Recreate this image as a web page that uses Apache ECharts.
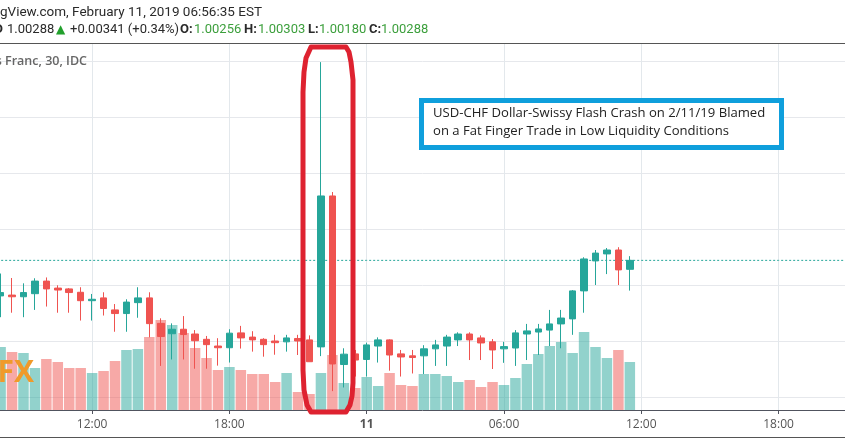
<!DOCTYPE html>
<html>
<head>
<meta charset="utf-8">
<style>html,body{margin:0;padding:0;background:#fff}#chart{width:845px;height:444px}</style>
<script src="https://cdn.jsdelivr.net/npm/echarts@6/dist/echarts.min.js"></script>
</head>
<body>
<div id="chart"></div>
<script>
// 30 minute bars, first slot is off screen to the left
const categories = ['07:30','08:00','08:30','09:00','09:30','10:00','10:30','11:00','11:30','12:00','12:30','13:00','13:30','14:00','14:30','15:00','15:30','16:00','16:30','17:00','17:30','18:00','18:30','19:00','19:30','20:00','20:30','21:00','21:30','22:00','22:30','23:00','23:30','11','00:30','01:00','01:30','02:00','02:30','03:00','03:30','04:00','04:30','05:00','05:30','06:00','06:30','07:00','07:30','08:00','08:30','09:00','09:30','10:00','10:30','11:00','11:30','12:00','12:30','13:00','13:30','14:00','14:30','15:00','15:30','16:00','16:30','17:00','17:30','18:00','18:30','19:00','19:30','20:00','20:30','21:00'];

const opens = [1.00161,1.00164,1.00158,1.00169,1.00214,1.00189,1.00186,1.00174,1.00144,1.00154,1.00111,1.00098,1.00137,1.00154,1.00063,1.00026,1.00042,1.00025,1.00006,0.99982,0.99976,1.00029,1.00014,1.00006,1.00000,0.99997,1.00009,1.00004,0.99979,1.00518,0.99916,0.99954,0.99934,0.99982,1.00004,0.99954,0.99947,0.99947,0.99972,0.99982,1.00004,1.00025,1.00011,0.99997,0.99972,0.99975,1.00025,1.00032,1.00039,1.00061,1.00079,1.00179,1.00286,1.00311,1.00325,1.00256];
const closes = [1.00173,1.00158,1.00173,1.00214,1.00186,1.00182,1.00173,1.00144,1.00149,1.00116,1.00098,1.00139,1.00154,1.00062,1.00016,1.00042,1.00023,1.00001,0.99987,0.99976,1.00028,1.00011,1.00004,0.99987,0.99994,1.00011,1.00000,0.99926,1.00518,0.99918,0.99953,0.99932,0.99986,1.00004,0.99950,0.99943,0.99941,0.99972,0.99986,1.00014,1.00025,1.00004,0.99993,0.99968,0.99980,1.00029,1.00036,1.00043,1.00061,1.00082,1.00179,1.00293,1.00314,1.00325,1.00254,1.00288];
const lows = [1.00085,1.00101,1.00085,1.00111,1.00123,1.00101,1.00101,1.00073,1.00073,1.00091,1.00033,1.00033,1.00083,1.00013,0.99911,0.99934,0.99934,0.99901,0.99901,0.99912,0.99923,0.99973,0.99962,0.99944,0.99951,0.99962,0.99950,0.99926,0.99946,0.99821,0.99834,0.99873,0.99873,0.99923,0.99894,0.99873,0.99884,0.99882,0.99911,0.99911,0.99982,0.99932,0.99932,0.99900,0.99922,0.99911,0.99932,0.99950,0.99982,0.99974,1.00022,1.00101,1.00200,1.00239,1.00200,1.00180];
const highs = [1.00241,1.00225,1.00206,1.00224,1.00227,1.00199,1.00189,1.00192,1.00168,1.00174,1.00132,1.00149,1.00192,1.00174,1.00081,1.00063,1.00089,1.00039,1.00018,1.00010,1.00042,1.00054,1.00035,1.00010,1.00022,1.00022,1.00022,1.00020,1.00996,1.00532,0.99974,0.99968,0.99994,1.00013,1.00006,0.99968,0.99968,0.99985,1.00004,1.00022,1.00031,1.00031,1.00020,1.00007,0.99997,1.00039,1.00061,1.00061,1.00111,1.00111,1.00182,1.00299,1.00325,1.00332,1.00335,1.00303];
const volumes = [63,58,57,42,51,48,42,42,37,39,49,60,61,73,90,85,77,62,52,40,43,40,36,36,28,37,18,16,37,55,27,22,33,24,37,25,24,36,36,34,28,30,23,28,25,32,46,56,64,68,57,78,63,52,60,48];
const lastPrice = 1.00288;
const priceTicks = { min: 0.998, max: 1.01, step: 0.002 };

const UP = '#26a69a', DOWN = '#ef5350';
const FONT = '"Open Sans", "Noto Sans", sans-serif';
const HEAD = 'Roboto, "Open Sans", sans-serif';
const isTick = i => i % 12 === 9;

function txt(x, y, text, fill, extra) {
    return { type: 'text', x, y, z: 20, style: Object.assign({
        text, fill, font: '13px ' + HEAD, textVerticalAlign: 'middle'
    }, extra || {}) };
}

const myChart = echarts.init(document.getElementById('chart'), null, { renderer: 'canvas' });
myChart.setOption({
    animation: false,
    backgroundColor: '#fff',
    grid: [
        { left: -10.84, right: -2.2, top: 61, bottom: 47, outerBoundsMode: 'none' },
        { left: -10.84, right: -2.2, top: 44, bottom: 34, outerBoundsMode: 'none' }
    ],
    xAxis: [
        { type: 'category', gridIndex: 0, data: categories, boundaryGap: false, show: false },
        {
            type: 'category', gridIndex: 1, data: categories, boundaryGap: false,
            axisLine: { lineStyle: { color: '#50535e', width: 1 } },
            axisTick: { interval: isTick, length: 4, lineStyle: { color: '#50535e' } },
            axisLabel: {
                interval: isTick, color: '#555', fontSize: 12, fontFamily: FONT, margin: 9,
                formatter: v => v === '11' ? '{b|11}' : v,
                rich: { b: { fontWeight: 'bold', color: '#555', fontSize: 12, fontFamily: FONT } }
            },
            splitLine: { show: true, interval: isTick, lineStyle: { color: '#e3e8ec', width: 1 } }
        }
    ],
    yAxis: [
        {
            type: 'value', gridIndex: 0, scale: true,
            min: priceTicks.min, max: priceTicks.max, interval: priceTicks.step,
            axisLine: { show: false }, axisTick: { show: false }, axisLabel: { show: false },
            splitLine: { lineStyle: { color: '#e6e8ec', width: 1 } }
        },
        {
            type: 'value', gridIndex: 1, min: 0, max: 366,
            axisLine: { show: false }, axisTick: { show: false }, axisLabel: { show: false },
            splitLine: { show: false }
        }
    ],
    series: [
        {
            type: 'bar', xAxisIndex: 1, yAxisIndex: 1, z: 1, barWidth: 10.5, silent: true,
            data: ['-'].concat(volumes.map((v, i) => ({
                value: v,
                itemStyle: { color: closes[i] >= opens[i] ? 'rgba(38,166,154,0.5)' : 'rgba(239,83,80,0.5)' }
            })))
        },
        {
            type: 'line', xAxisIndex: 0, yAxisIndex: 0, z: 2, silent: true, showSymbol: false,
            lineStyle: { color: UP, type: [2, 2], width: 1 },
            data: categories.map(() => lastPrice)
        },
        {
            type: 'candlestick', xAxisIndex: 0, yAxisIndex: 0, z: 3, barWidth: 7, silent: true,
            itemStyle: { color: UP, borderColor: UP, color0: DOWN, borderColor0: DOWN, borderWidth: 1 },
            data: [['-', '-', '-', '-']].concat(opens.map((o, i) => [o, closes[i], lows[i], highs[i]]))
        }
    ],
    graphic: [
        { type: 'rect', z: 15, shape: { x: 0, y: 0, width: 845, height: 43 }, style: { fill: '#fff' } },
        { type: 'rect', z: 16, shape: { x: 0, y: 43, width: 845, height: 1 }, style: { fill: '#555' } },
        { type: 'rect', z: 16, shape: { x: 0, y: 437, width: 845, height: 1 }, style: { fill: '#555' } },
        txt(0, 13, 'gView.com, February 11, 2019 06:56:35 EST', '#2a2a2a', { font: '13.5px ' + HEAD }),
        txt(3, 30, 'D', '#2a2a2a', { textAlign: 'right', font: 'bold 13px ' + HEAD }),
        txt(7, 30, '1.00288', '#2a2a2a'),
        txt(56, 30, '▲', '#22a02c', { font: '12px "DejaVu Sans"' }),
        txt(70, 30, '+0.00341 (+0.34%)', '#2a2a2a'),
        txt(180, 30, 'O:', '#2a2a2a', { font: 'bold 13px ' + HEAD }),
        txt(194, 30, '1.00256', '#3c9f3c'),
        txt(244, 30, 'H:', '#2a2a2a', { font: 'bold 13px ' + HEAD }),
        txt(258, 30, '1.00303', '#3c9f3c'),
        txt(308, 30, 'L:', '#2a2a2a', { font: 'bold 13px ' + HEAD }),
        txt(319, 30, '1.00180', '#3c9f3c'),
        txt(369, 30, 'C:', '#2a2a2a', { font: 'bold 13px ' + HEAD }),
        txt(381, 30, '1.00288', '#3c9f3c'),
        txt(87, 61, 's Franc, 30, IDC', '#666', { textAlign: 'right', font: '600 12.5px ' + FONT }),
        txt(34, 373, 'FX', '#f09a2a', { textAlign: 'right', font: 'bold 30px ' + FONT }),
        {
            type: 'rect', z: 18, shape: { x: 421.5, y: 100.5, width: 360, height: 47 },
            style: { fill: '#fff', stroke: '#0f9fdc', lineWidth: 5 }
        },
        txt(433, 113.5, 'USD-CHF Dollar-Swissy Flash Crash on 2/11/19 Blamed', '#222', { font: '13.1px ' + FONT }),
        txt(433, 131.5, 'on a Fat Finger Trade in Low Liquidity Conditions', '#222', { font: '13.1px ' + FONT }),
        {
            type: 'polygon', z: 18,
            shape: { points: [[311,47],[346,47],[349,52],[351,62],[353,80],[353,383],[352,396],[350,405],[346,412],[311,412],[307,405],[304,390],[303,370],[303,92],[304,72],[306,58]] },
            style: { fill: 'none', stroke: '#de2230', lineWidth: 5, lineJoin: 'round' }
        }
    ]
});
</script>
</body>
</html>
